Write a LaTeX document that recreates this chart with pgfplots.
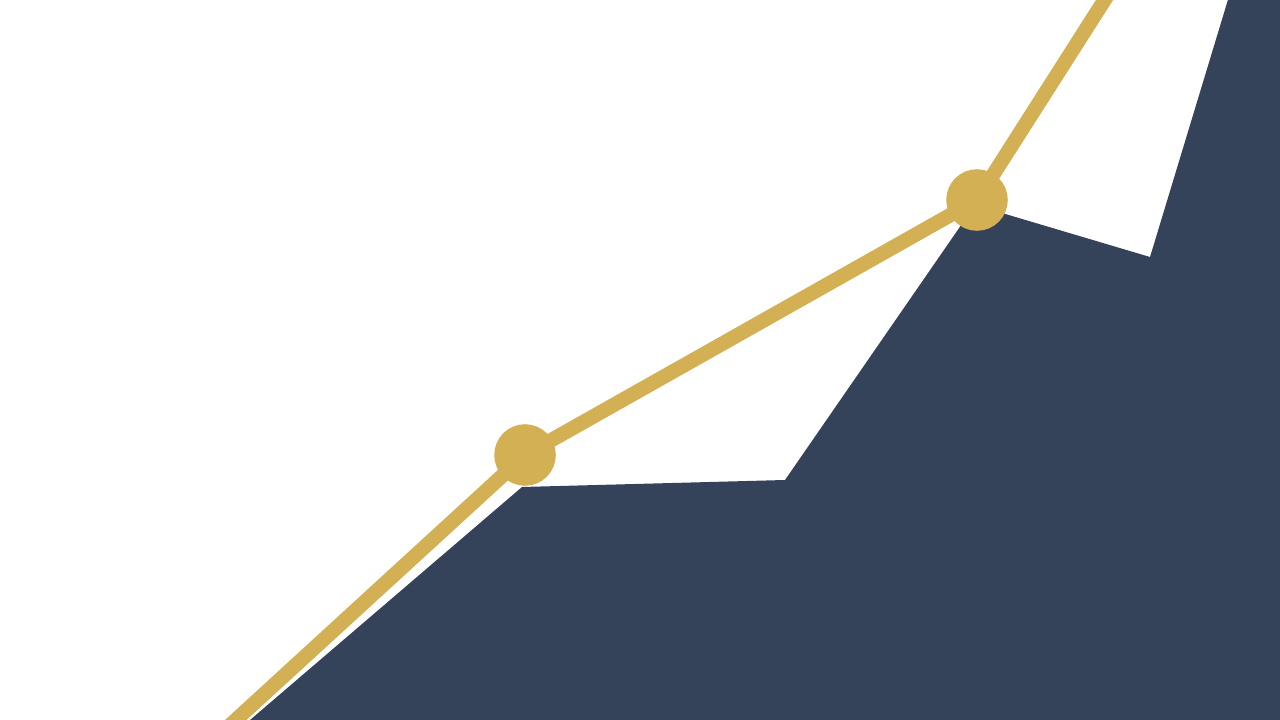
\documentclass[border=0pt]{standalone}
\usepackage{pgfplots}
\pgfplotsset{compat=1.18}
\definecolor{navy}{RGB}{52,66,90}
\definecolor{gold}{RGB}{211,176,84}

\begin{document}
\begin{tikzpicture}
\begin{axis}[
    hide axis,
    scale only axis,
    width=12.8cm, height=7.2cm,
    xmin=0, xmax=1280,
    ymin=0, ymax=720,
    clip=true,
]

% Area (pixel units, y measured from the bottom)
\addplot[fill=navy, draw=none] coordinates {
    (250,0) (522,233) (785,240) (975,515) (1150,463) (1240,760)
    (1300,760) (1300,-20) (250,-20)
} -- cycle;

% Line
\addplot[gold, line width=1.45mm, mark=*, mark size=2.35mm,
    mark options={fill=gold, draw=none}, mark indices={1,2}] coordinates {
    (203,-30) (525,265) (977,520) (1130,760)
};

\end{axis}
\pgfresetboundingbox
\useasboundingbox (current axis.south west) rectangle (current axis.north east);
\end{tikzpicture}
\end{document}
